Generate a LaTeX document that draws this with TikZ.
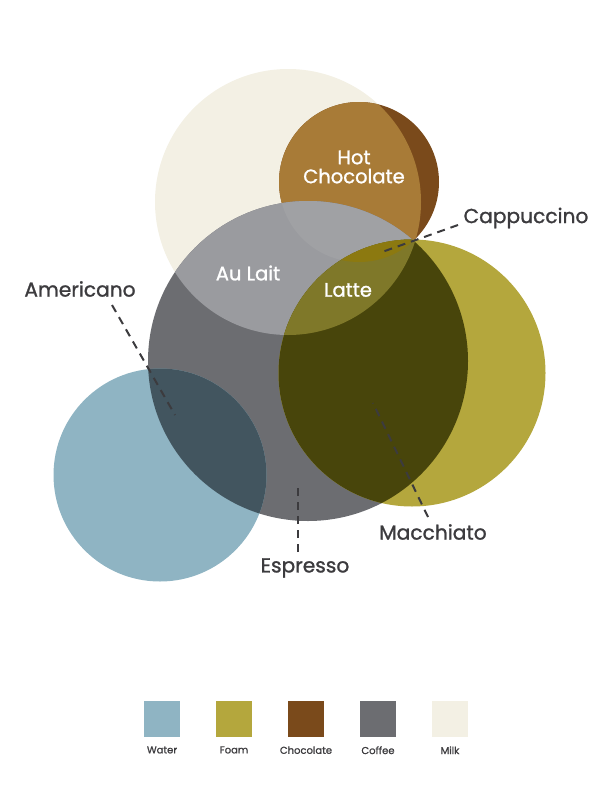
\documentclass[tikz,border=0pt]{standalone}
\usepackage{fontspec}
\setmainfont{Poppins}
\newfontfamily\labelfont[FakeBold=1.2]{Poppins}
\usetikzlibrary{positioning}

\definecolor{milk}{HTML}{F3F0E4}
\definecolor{choc}{HTML}{7A4A1B}
\definecolor{chocmilk}{HTML}{A87B37}
\definecolor{coffee}{HTML}{6C6D71}
\definecolor{aulait}{HTML}{9A9B9F}
\definecolor{aulaitchoc}{HTML}{A0A1A4}
\definecolor{foam}{HTML}{B4A73D}
\definecolor{macchiato}{HTML}{48450B}
\definecolor{latte}{HTML}{7F7829}
\definecolor{cappuccino}{HTML}{8C7910}
\definecolor{water}{HTML}{8FB4C3}
\definecolor{americano}{HTML}{42555F}
\definecolor{textgray}{HTML}{3C3B3E}

% circles of the diagram
\newcommand{\milkcirc}{(288,202) circle (133pt)}
\newcommand{\choccirc}{(359,182) circle (80pt)}
\newcommand{\coffeecirc}{(308,361) circle (160pt)}
\newcommand{\foamcirc}{(412,373) circle (133.5pt)}
\newcommand{\watercirc}{(160,475) circle (106.5pt)}

\begin{document}
\begin{tikzpicture}[x=1pt, y=-1pt,
    drink/.style={font=\labelfont\fontsize{20.2}{23}\selectfont, text=textgray, inner sep=0pt},
    inside/.style={font=\labelfont\fontsize{19.5}{19}\selectfont, text=white, align=center, inner sep=0pt},
    leader/.style={dash pattern=on 8pt off 6pt, line width=2pt, textgray},
    swatch/.style={minimum size=36pt, inner sep=0pt},
    key/.style={font=\labelfont\fontsize{10}{10}\selectfont, text=textgray, inner sep=0pt}
]
    \useasboundingbox (0,0) rectangle (612,792);

    % base circles and overlaps
    \fill[milk] \milkcirc;
    \fill[choc] \choccirc;
    \begin{scope}
        \clip \milkcirc;
        \fill[chocmilk] \choccirc;
    \end{scope}
    \fill[coffee] \coffeecirc;
    \begin{scope}
        \clip \coffeecirc;
        \fill[aulait] \milkcirc;
        \clip \milkcirc;
        \fill[aulaitchoc] \choccirc;
    \end{scope}
    \fill[foam] \foamcirc;
    \begin{scope}
        \clip \foamcirc;
        \fill[macchiato] \coffeecirc;
        \clip \milkcirc;
        \fill[latte] \coffeecirc;
        \clip \choccirc;
        \fill[cappuccino] \coffeecirc;
    \end{scope}
    \fill[water] \watercirc;
    \begin{scope}
        \clip \watercirc;
        \fill[americano] \coffeecirc;
    \end{scope}

    % labels inside
    \node[inside] (hotchoc) at (354,167) {Hot\\Chocolate};
    \node[inside] (aulait) at (248,273) {Au Lait};
    \node[inside] (latte) at (348,290) {Latte};

    % labels outside
    \node[drink] (americano) at (80,289) {Americano};
    \node[drink] (cappuccino) at (526,218) {Cappuccino};
    \node[drink] (macchiato) at (433,532) {Macchiato};
    \node[drink] (espresso) at (305,568) {Espresso};

    \coordinate (am1) at (112,305);
    \coordinate (am2) at (175,415);
    \coordinate (ca1) at (458,225);
    \coordinate (ca2) at (382,252);
    \coordinate (ma1) at (428,517);
    \coordinate (ma2) at (373,403);
    \coordinate (es1) at (298,552);
    \coordinate (es2) at (298,488);

    \draw[leader] (am1) -- (am2);
    \draw[leader] (ca1) -- (ca2);
    \draw[leader] (ma1) -- (ma2);
    \draw[leader] (es1) -- (es2);

    % legend
    \foreach \name/\col [count=\i] in {Water/water, Foam/foam, Chocolate/choc, Coffee/coffee, Milk/milk} {
        \node[swatch, fill=\col] (sw\i) at (90+72*\i,719) {};
        \node[key, below=9pt of sw\i] (key\i) {\name};
    }
\end{tikzpicture}
\end{document}
